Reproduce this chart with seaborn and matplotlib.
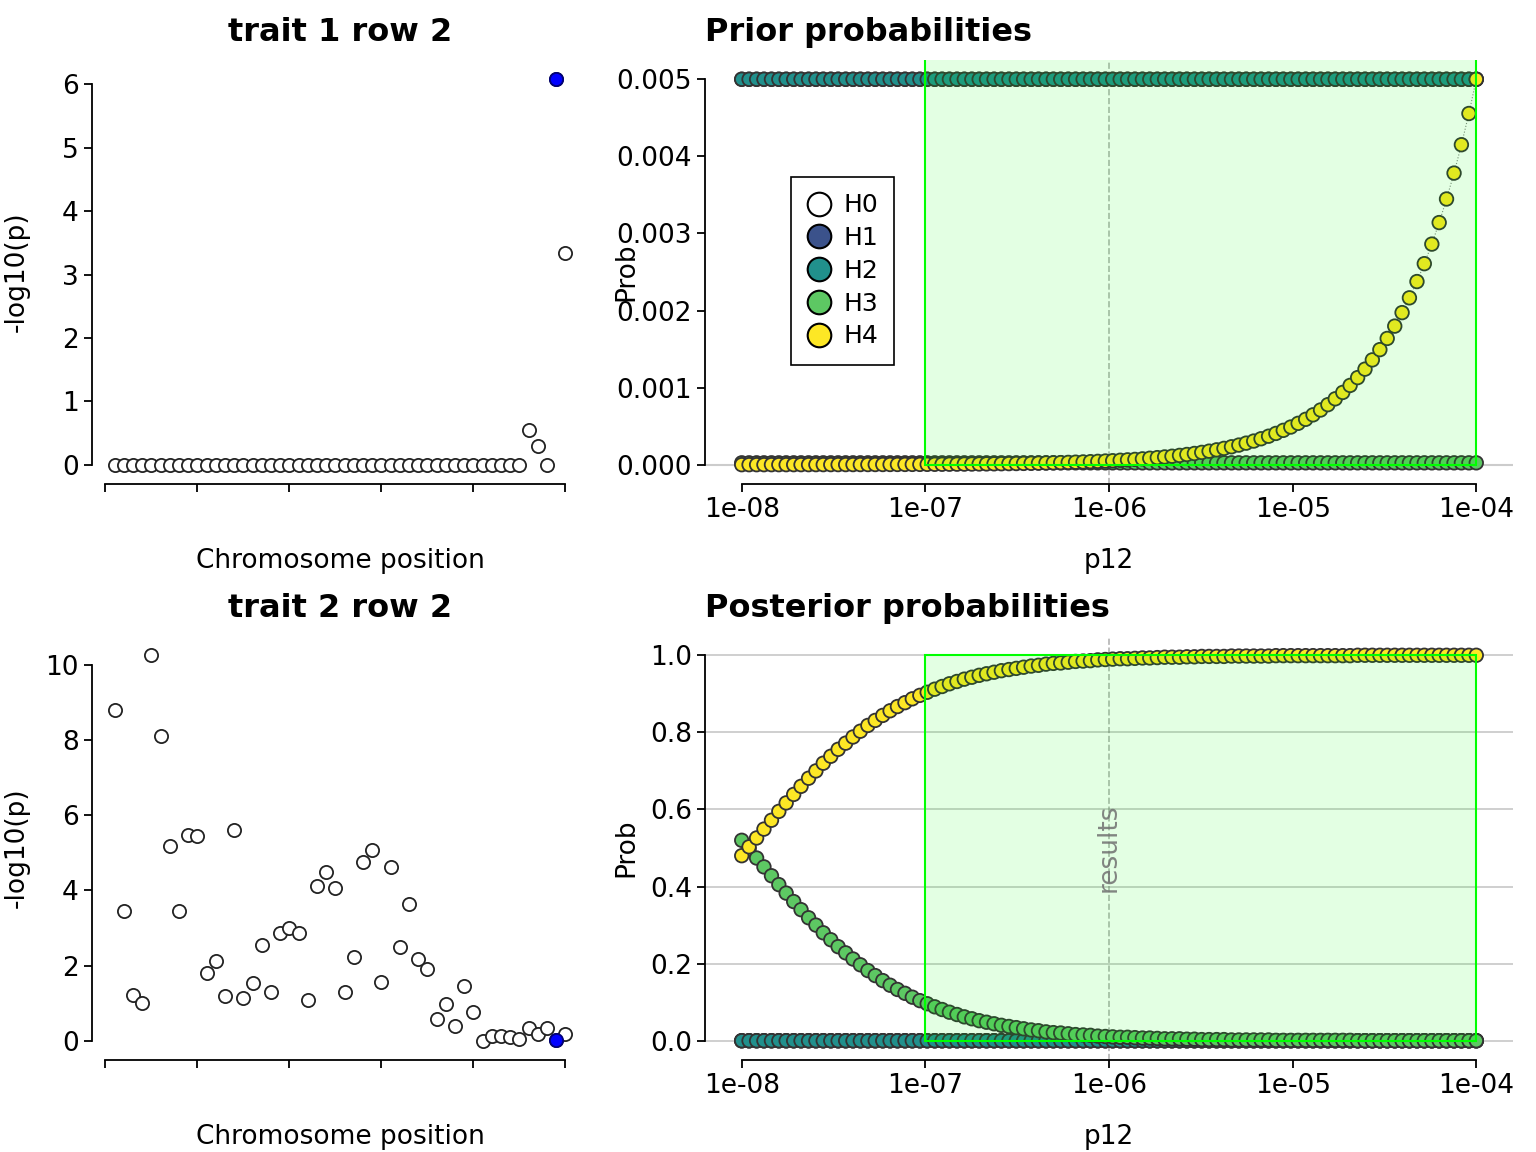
import matplotlib as mpl
mpl.use("Agg")
import matplotlib.pyplot as plt
import seaborn as sns
import pandas as pd
from matplotlib.lines import Line2D
from matplotlib.patches import Rectangle
from matplotlib.ticker import FixedLocator, FuncFormatter, FormatStrFormatter, NullLocator

# ---- data ----
snp_index = list(range(1, 51))
best_snp = 49

trait1_logp = [
    0, 0, 0, 0, 0, 0, 0, 0, 0, 0,
    0, 0, 0, 0, 0, 0, 0, 0, 0, 0,
    0, 0, 0, 0, 0, 0, 0, 0, 0, 0,
    0, 0, 0, 0, 0, 0, 0, 0, 0, 0,
    0, 0, 0, 0, 0, 0.54, 0.30, 0, 6.08, 3.34,
]
trait2_logp = [
    8.81, 3.46, 1.22, 1.00, 10.26, 8.10, 5.17, 3.46, 5.47, 5.46,
    1.81, 2.11, 1.20, 5.60, 1.14, 1.54, 2.55, 1.29, 2.87, 3.00,
    2.87, 1.08, 4.12, 4.48, 4.06, 1.31, 2.24, 4.76, 5.07, 1.57,
    4.62, 2.50, 3.64, 2.18, 1.90, 0.58, 0.98, 0.40, 1.46, 0.76,
    0.00, 0.12, 0.13, 0.11, 0.04, 0.34, 0.17, 0.35, 0.01, 0.18,
]

# p12 grid (log10)
log10_p12 = [
    -8.000, -7.960, -7.919, -7.879, -7.838, -7.798, -7.758, -7.717, -7.677, -7.636,
    -7.596, -7.556, -7.515, -7.475, -7.434, -7.394, -7.354, -7.313, -7.273, -7.232,
    -7.192, -7.152, -7.111, -7.071, -7.030, -6.990, -6.949, -6.909, -6.869, -6.828,
    -6.788, -6.747, -6.707, -6.667, -6.626, -6.586, -6.545, -6.505, -6.465, -6.424,
    -6.384, -6.343, -6.303, -6.263, -6.222, -6.182, -6.141, -6.101, -6.061, -6.020,
    -5.980, -5.939, -5.899, -5.859, -5.818, -5.778, -5.737, -5.697, -5.657, -5.616,
    -5.576, -5.535, -5.495, -5.455, -5.414, -5.374, -5.333, -5.293, -5.253, -5.212,
    -5.172, -5.131, -5.091, -5.051, -5.010, -4.970, -4.929, -4.889, -4.848, -4.808,
    -4.768, -4.727, -4.687, -4.646, -4.606, -4.566, -4.525, -4.485, -4.444, -4.404,
    -4.364, -4.323, -4.283, -4.242, -4.202, -4.162, -4.121, -4.081, -4.040, -4.000,
]
n_grid = len(log10_p12)

# prior probabilities
prior_h0 = [0.99] * n_grid
prior_h1 = [0.005] * n_grid
prior_h2 = [0.005] * n_grid
prior_h3 = [0.0000245] * n_grid
prior_h4_e6 = [  # in units of 1e-6
    0.50, 0.55, 0.60, 0.66, 0.73, 0.80, 0.88, 0.96, 1.06, 1.16,
    1.27, 1.40, 1.53, 1.68, 1.85, 2.03, 2.23, 2.44, 2.68, 2.94,
    3.23, 3.55, 3.89, 4.27, 4.69, 5.14, 5.64, 6.19, 6.80, 7.46,
    8.19, 8.98, 9.86, 10.8, 11.9, 13.0, 14.3, 15.7, 17.2, 18.9,
    20.7, 22.7, 24.9, 27.4, 30.0, 33.0, 36.2, 39.7, 43.6, 47.8,
    52, 58, 63, 69, 76, 84, 92, 101, 110, 121,
    133, 146, 160, 176, 193, 212, 233, 255, 280, 307,
    337, 370, 406, 446, 489, 537, 589, 647, 710, 779,
    855, 938, 1029, 1130, 1240, 1360, 1493, 1638, 1798, 1973,
    2165, 2376, 2608, 2862, 3141, 3447, 3783, 4151, 4556, 5000,
]

# posterior probabilities
post_h0 = [0.0] * n_grid
post_h1 = [0.0] * n_grid
post_h2 = [0.0] * n_grid
post_h3 = [
    0.520, 0.497, 0.474, 0.451, 0.428, 0.405, 0.383, 0.361, 0.340, 0.319,
    0.300, 0.280, 0.262, 0.244, 0.228, 0.212, 0.197, 0.182, 0.169, 0.156,
    0.144, 0.133, 0.123, 0.113, 0.104, 0.096, 0.088, 0.081, 0.074, 0.068,
    0.062, 0.057, 0.052, 0.048, 0.044, 0.040, 0.037, 0.034, 0.031, 0.028,
    0.026, 0.023, 0.021, 0.020, 0.018, 0.016, 0.015, 0.014, 0.012, 0.011,
    0.010, 0.009, 0.009, 0.008, 0.007, 0.007, 0.006, 0.005, 0.005, 0.005,
    0.004, 0.004, 0.003, 0.003, 0.003, 0.003, 0.002, 0.002, 0.002, 0.002,
    0.002, 0.002, 0.001, 0.001, 0.001, 0.001, 0.001, 0.001, 0.001, 0.001,
    0.001, 0.001, 0.001, 0.000, 0.000, 0.000, 0.000, 0.000, 0.000, 0.000,
    0.000, 0.000, 0.000, 0.000, 0.000, 0.000, 0.000, 0.000, 0.000, 0.000,
]
post_h4 = [
    0.480, 0.503, 0.526, 0.549, 0.572, 0.595, 0.617, 0.639, 0.660, 0.681,
    0.700, 0.720, 0.738, 0.756, 0.772, 0.788, 0.803, 0.818, 0.831, 0.844,
    0.856, 0.867, 0.877, 0.887, 0.896, 0.904, 0.912, 0.919, 0.926, 0.932,
    0.938, 0.943, 0.948, 0.952, 0.956, 0.960, 0.963, 0.966, 0.969, 0.972,
    0.974, 0.977, 0.979, 0.980, 0.982, 0.984, 0.985, 0.986, 0.988, 0.989,
    0.990, 0.991, 0.991, 0.992, 0.993, 0.993, 0.994, 0.995, 0.995, 0.995,
    0.996, 0.996, 0.997, 0.997, 0.997, 0.997, 0.998, 0.998, 0.998, 0.998,
    0.998, 0.998, 0.999, 0.999, 0.999, 0.999, 0.999, 0.999, 0.999, 0.999,
    0.999, 0.999, 0.999, 1.000, 1.000, 1.000, 1.000, 1.000, 1.000, 1.000,
    1.000, 1.000, 1.000, 1.000, 1.000, 1.000, 1.000, 1.000, 1.000, 1.000,
]

hyps = ["H0", "H1", "H2", "H3", "H4"]
hyp_colors = ["#FFFFFF", "#3B528B", "#21908C", "#5DC863", "#FDE725"]

p12_lo, p12_hi = 1e-7, 1e-4   # accepted region
p12_chosen = 1e-6

FS = 19
sns.set_theme(style="ticks")
plt.rcParams.update({
    "font.family": ["DejaVu Sans"],
    "font.size": FS,
    "axes.titlesize": 23,
    "axes.labelsize": FS,
    "xtick.labelsize": FS,
    "ytick.labelsize": FS,
    "legend.fontsize": 18,
    "text.color": "black",
    "axes.labelcolor": "black",
    "xtick.color": "black",
    "ytick.color": "black",
    "axes.linewidth": 1.3,
    "axes.edgecolor": "black",
    "xtick.major.size": 6,
    "ytick.major.size": 6,
    "xtick.major.width": 1.3,
    "ytick.major.width": 1.3,
})


def long_df(series):
    rows = []
    for h, vals in zip(hyps, series):
        for e, v in zip(log10_p12, vals):
            rows.append({"p12": 10 ** e, "prob": v, "hyp": h})
    return pd.DataFrame(rows)


def plot_region(ax, logp, title):
    df = pd.DataFrame({"pos": snp_index, "logp": logp})
    sns.scatterplot(data=df, x="pos", y="logp", ax=ax, color="white",
                    edgecolor="#222222", linewidth=1.3, s=90, zorder=3)
    best = df[df["pos"] == best_snp]
    sns.scatterplot(data=best, x="pos", y="logp", ax=ax, color="#0000FF",
                    edgecolor="#00007a", linewidth=1.3, s=90, zorder=4)
    ax.set_xticks(range(0, 51, 10))
    ax.set_xticklabels([])
    ax.set_xlabel("Chromosome position")
    ax.set_ylabel("-log10(p)")
    ax.set_title(title, fontweight="bold", pad=14)
    sns.despine(ax=ax, trim=True)
    ax.xaxis.set_label_coords(0.5, -0.15)
    ax.yaxis.set_label_coords(-0.125, 0.5)


def plot_probs(ax, df, title, ylim, fmt, grid):
    if grid:
        ax.grid(axis="y", color="#cccccc", lw=1.3, zorder=0)
    else:
        ax.axhline(0, color="#cccccc", lw=1.5, zorder=0)
    ax.axvline(p12_chosen, color="gray", ls="--", lw=1.2, alpha=0.6, zorder=1)
    for h in hyps:
        sns.lineplot(data=df[df["hyp"] == h], x="p12", y="prob", ax=ax,
                     color="#333333", ls=":", lw=0.8, alpha=0.6, zorder=2,
                     legend=False)
    sns.scatterplot(data=df, x="p12", y="prob", hue="hyp",
                    palette=dict(zip(hyps, hyp_colors)), s=95,
                    edgecolor="#333333", linewidth=1.3, ax=ax, zorder=3,
                    legend=False)
    ax.add_patch(Rectangle((p12_lo, 0), p12_hi - p12_lo, 1,
                           facecolor=(0, 1, 0, 0.11), edgecolor=(0, 1, 0),
                           lw=1.5, zorder=4))
    ax.set_xscale("log")
    ax.set_xlim(10 ** -8.2, 10 ** -3.8)
    ax.set_ylim(*ylim)
    ax.xaxis.set_major_locator(FixedLocator([1e-8, 1e-7, 1e-6, 1e-5, 1e-4]))
    ax.xaxis.set_minor_locator(NullLocator())
    ax.xaxis.set_major_formatter(FuncFormatter(lambda v, _: f"{v:.0e}"))
    ax.yaxis.set_major_formatter(FormatStrFormatter(fmt))
    ax.set_xlabel("p12")
    ax.set_ylabel("Prob")
    ax.set_title(title, fontweight="bold", loc="left", pad=14)
    sns.despine(ax=ax, trim=True)
    ax.xaxis.set_label_coords(0.5, -0.15)
    ax.yaxis.set_label_coords(-0.081, 0.5)


fig = plt.figure(figsize=(15.36, 11.52), dpi=100)
W, H = 1536, 1152
ax_t1 = fig.add_axes([92 / W, 1 - 484 / H, 496 / W, 424 / H])
ax_t2 = fig.add_axes([92 / W, 1 - 1060 / H, 496 / W, 424 / H])
ax_pr = fig.add_axes([705 / W, 1 - 484 / H, 808 / W, 424 / H])
ax_po = fig.add_axes([705 / W, 1 - 1060 / H, 808 / W, 424 / H])

plot_region(ax_t1, trait1_logp, "trait 1 row 2")
plot_region(ax_t2, trait2_logp, "trait 2 row 2")

prior_h4 = [v * 1e-6 for v in prior_h4_e6]
prior_df = long_df([prior_h0, prior_h1, prior_h2, prior_h3, prior_h4])
post_df = long_df([post_h0, post_h1, post_h2, post_h3, post_h4])

plot_probs(ax_pr, prior_df, "Prior probabilities", (-0.00025, 0.00525), "%.3f", grid=False)
plot_probs(ax_po, post_df, "Posterior probabilities", (-0.05, 1.05), "%.1f", grid=True)

ax_po.text(p12_chosen, 0.5, "results", rotation=90, ha="center", va="center",
           color="#707070", alpha=0.85, fontsize=FS, zorder=5)

handles = [
    Line2D([], [], marker="o", ls="", markersize=17, markerfacecolor=c,
           markeredgecolor="black", markeredgewidth=1.5, label=h)
    for h, c in zip(hyps, hyp_colors)
]
leg = ax_pr.legend(handles=handles, loc="upper left", bbox_to_anchor=(0.106, 0.724),
                   borderaxespad=0, frameon=True, fancybox=False, framealpha=1,
                   edgecolor="black", borderpad=0.65, labelspacing=0.35,
                   handlelength=1.0, handletextpad=0.45)
leg.get_frame().set_linewidth(1.2)

fig.savefig("out.png", dpi=100)
